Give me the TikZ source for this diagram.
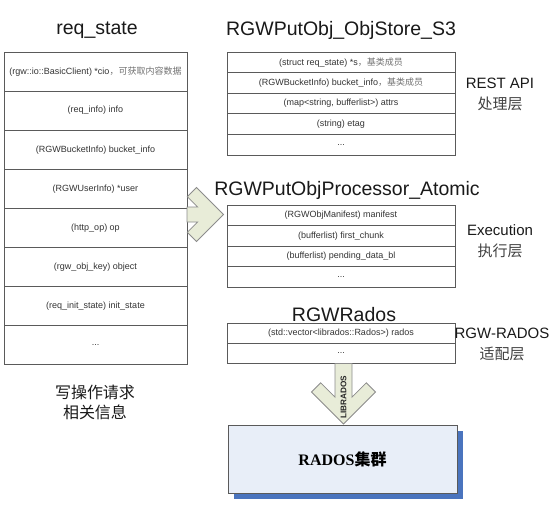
\documentclass[tikz,border=0pt]{standalone}
\usepackage{fontspec}
\setmainfont{Liberation Sans}
\newfontfamily\cjk{Noto Sans CJK SC}
\newfontfamily\serifb{Liberation Serif}
\usetikzlibrary{calc}
\definecolor{linegray}{HTML}{5A5A5A}
\definecolor{arrowfill}{HTML}{E8ECD8}
\definecolor{arrowline}{HTML}{8C8C8C}
\definecolor{cjkgray}{HTML}{707070}
\definecolor{radosfill}{HTML}{E8EEF8}
\definecolor{radosshadow}{HTML}{4A74BE}
\begin{document}
\begin{tikzpicture}[x=1pt,y=-1pt,
  cell/.style={draw=linegray, line width=0.8pt, inner sep=0pt, anchor=center,
    font=\fontsize{9}{10}\selectfont, text=black!80},
  leftcell/.style={cell, minimum width=183pt, minimum height=39.1pt},
  rightcell/.style={cell, minimum width=228pt, minimum height=20.6pt},
  title/.style={font=\fontsize{19.5}{22}\selectfont, text=black!90, inner sep=0pt},
  layer/.style={font=\fontsize{15}{18}\selectfont, text=black!90, inner sep=0pt, align=center},
  zh/.style={font=\cjk\fontsize{15}{20}\selectfont, text=black!75},
  blockarrow/.style={fill=arrowfill, draw=arrowline, line width=0.8pt, line join=miter}
]
\useasboundingbox (0,0) rectangle (552,520);

% ---- req_state ----
\node[title] (tl) at (97,30) {req\_state};
\node[leftcell] (l1) at (95.5,71.55) {(rgw::io::BasicClient) *cio{\cjk\color{cjkgray}，可获取内容数据}};
\node[leftcell] (l2) at (95.5,110.65) {(req\_info) info};
\node[leftcell] (l3) at (95.5,149.75) {(RGWBucketInfo) bucket\_info};
\node[leftcell] (l4) at (95.5,188.85) {(RGWUserInfo) *user};
\node[leftcell] (l5) at (95.5,227.95) {(http\_op) op};
\node[leftcell] (l6) at (95.5,267.05) {(rgw\_obj\_key) object};
\node[leftcell] (l7) at (95.5,306.15) {(req\_init\_state) init\_state};
\node[leftcell] (l8) at (95.5,345.25) {...};
\node[font=\cjk\fontsize{16}{20}\selectfont, align=center, inner sep=0pt, text=black!90] (ldesc) at (95,402) {写操作请求\\相关信息};

% ---- RGWPutObj_ObjStore_S3 ----
\node[title] (tr) at (341,30) {RGWPutObj\_ObjStore\_S3};
\node[rightcell] (r1) at (341,62.3) {(struct req\_state) *s{\cjk\color{cjkgray}，基类成员}};
\node[rightcell] (r2) at (341,82.9) {(RGWBucketInfo) bucket\_info{\cjk\color{cjkgray}，基类成员}};
\node[rightcell] (r3) at (341,103.5) {(map<string, bufferlist>) attrs};
\node[rightcell] (r4) at (341,124.1) {(string) etag};
\node[rightcell] (r5) at (341,144.7) {...};
\node[layer] (lay1) at (500,83) {REST API};
\node[layer, zh] (lay1b) at (500,104) {处理层};

% ---- RGWPutObjProcessor_Atomic ----
\node[title] (tp) at (347,190) {RGWPutObjProcessor\_Atomic};
\node[rightcell, minimum height=20.5pt] (p1) at (341,215.25) {(RGWObjManifest) manifest};
\node[rightcell, minimum height=20.5pt] (p2) at (341,235.75) {(bufferlist) first\_chunk};
\node[rightcell, minimum height=20.5pt] (p3) at (341,256.25) {(bufferlist) pending\_data\_bl};
\node[rightcell, minimum height=20.5pt] (p4) at (341,276.75) {...};
\node[layer] (lay2) at (500,230) {Execution};
\node[layer, zh] (lay2b) at (500,251) {执行层};

% ---- RGWRados ----
\node[title] (tg) at (344,315) {RGWRados};
\node[rightcell, minimum height=20pt] (g1) at (341,333) {(std::vector<librados::Rados>) rados};
\node[rightcell, minimum height=20pt] (g2) at (341,353) {...};
\node[layer] (lay3) at (502,333) {RGW-RADOS};
\node[layer, zh] (lay3b) at (502,354) {适配层};

% ---- RADOS cluster ----
\fill[radosshadow] (234,431) rectangle (463,499);
\node[draw=linegray, line width=0.9pt, fill=radosfill, minimum width=229pt, minimum height=68pt, inner sep=0pt,
  font=\fontsize{16}{20}\selectfont\bfseries] (rados) at (342.5,459)
  {{\serifb RADOS}{\cjk 集群}};

% ---- right block arrow (req_state -> processor) ----
\draw[blockarrow]
  (187,207) -- (197.6,207) -- (187.3,196.7) -- (196.5,187.5) -- (223.5,214.5)
  -- (196.5,241.5) -- (187.3,232.3) -- (197.6,222) -- (187,222) -- cycle;

% ---- down block arrow (LIBRADOS) ----
\draw[blockarrow]
  (335,363.5) -- (335,397.1) -- (320.7,382.8) -- (311.5,392) -- (343.5,424)
  -- (375.5,392) -- (366.3,382.8) -- (352,397.1) -- (352,363.5) -- cycle;
\node[rotate=90, font=\fontsize{8.2}{9}\selectfont\bfseries, text=black!85, inner sep=0pt] (lib) at (343.5,397) {LIBRADOS};
\end{tikzpicture}
\end{document}
